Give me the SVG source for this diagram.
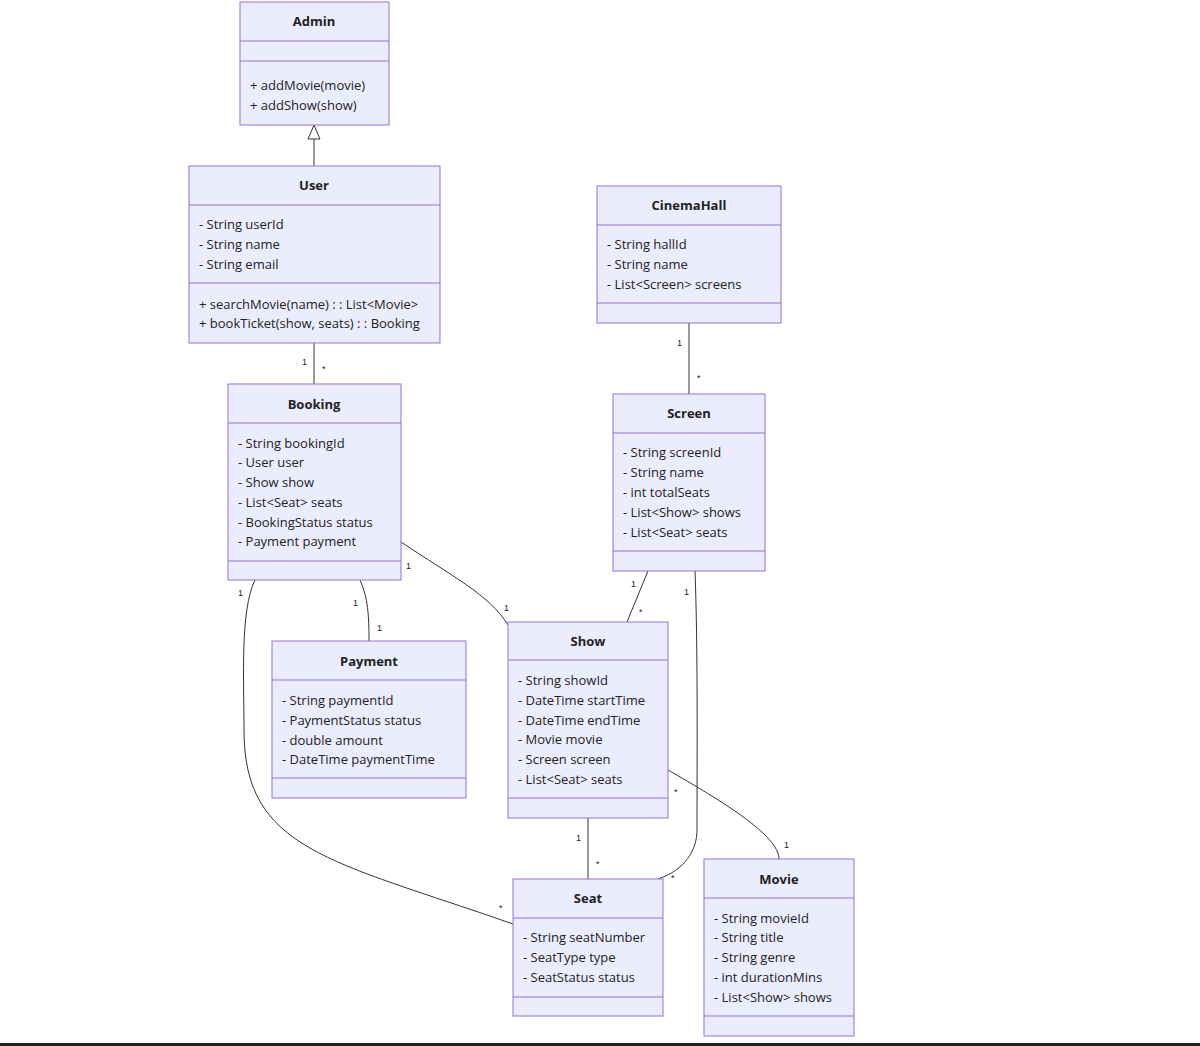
<svg xmlns="http://www.w3.org/2000/svg" width="1200" height="1046" viewBox="0 0 1200 1046">
<style>
.b{fill:#ECECFF;stroke:#9370DB;stroke-width:1}
.s{stroke:#9370DB;stroke-width:1}
.t{font-family:"Open Sans","Liberation Sans",sans-serif;font-size:13px;fill:#222}
.h{font-family:"Open Sans","Liberation Sans",sans-serif;font-size:13px;font-weight:bold;fill:#222;text-anchor:middle}
.l{fill:none;stroke:#333;stroke-width:1}
.n{font-family:"Liberation Sans",sans-serif;font-size:9px;fill:#222}
</style>
<rect width="1200" height="1046" fill="#fff"/>
<g id="connectors">
<path class="l" d="M314,166 V138"/><path d="M314,125 L308,139 L320,139 Z" fill="#fff" stroke="#333"/>
<path class="l" d="M314,343 V384"/>
<path class="l" d="M689,323 V394"/>
<path class="l" d="M401,542 C450,575 490,595 508,625"/>
<path class="l" d="M360,580 C368,598 369,615 369,641"/>
<path class="l" d="M255,580 C240,610 244,680 244,730 C244,850 330,860 513,924"/>
<path class="l" d="M648,571 L627,622"/>
<path class="l" d="M695,571 C698,650 697,760 697,830 C697,850 685,870 658,879"/>
<path class="l" d="M588,818 V879"/>
<path class="l" d="M668,770 C720,800 779,835 779,859"/>
<g class="n">
<text x="302" y="365">1</text><text x="322" y="372">*</text>
<text x="677" y="346">1</text><text x="697" y="381">*</text>
<text x="406" y="569">1</text><text x="504" y="611">1</text>
<text x="353" y="606">1</text><text x="377" y="631">1</text>
<text x="238" y="596">1</text><text x="499" y="911">*</text>
<text x="631" y="587">1</text><text x="639" y="615">*</text>
<text x="684" y="595">1</text><text x="671" y="881">*</text>
<text x="576" y="841">1</text><text x="596" y="867">*</text>
<text x="674" y="795">*</text><text x="784" y="848">1</text>
</g>
</g>
<g id="Admin"><rect class="b" x="240" y="2" width="149" height="123"/><path class="s" d="M240,41H389M240,61H389"/>
<text class="h" x="314" y="26">Admin</text><text class="t" x="250" y="90">+ addMovie(movie)</text><text class="t" x="250" y="110">+ addShow(show)</text></g>
<g id="User"><rect class="b" x="189" y="166" width="251" height="177"/><path class="s" d="M189,205H440M189,283H440"/>
<text class="h" x="314" y="190">User</text><text class="t" x="199" y="229">- String userId</text><text class="t" x="199" y="249">- String name</text><text class="t" x="199" y="269">- String email</text>
<text class="t" x="199" y="309">+ searchMovie(name) : : List&lt;Movie&gt;</text><text class="t" x="199" y="328">+ bookTicket(show, seats) : : Booking</text></g>
<g id="CinemaHall"><rect class="b" x="597" y="186" width="184" height="137"/><path class="s" d="M597,225H781M597,303H781"/>
<text class="h" x="689" y="210">CinemaHall</text><text class="t" x="607" y="249">- String hallId</text><text class="t" x="607" y="269">- String name</text><text class="t" x="607" y="289">- List&lt;Screen&gt; screens</text></g>
<g id="Booking"><rect class="b" x="228" y="384" width="173" height="196"/><path class="s" d="M228,423H401M228,561H401"/>
<text class="h" x="314" y="409">Booking</text><text class="t" x="238" y="448">- String bookingId</text><text class="t" x="238" y="467">- User user</text><text class="t" x="238" y="487">- Show show</text><text class="t" x="238" y="507">- List&lt;Seat&gt; seats</text><text class="t" x="238" y="527">- BookingStatus status</text><text class="t" x="238" y="546">- Payment payment</text></g>
<g id="Screen"><rect class="b" x="613" y="394" width="152" height="177"/><path class="s" d="M613,433H765M613,551H765"/>
<text class="h" x="689" y="418">Screen</text><text class="t" x="623" y="457">- String screenId</text><text class="t" x="623" y="477">- String name</text><text class="t" x="623" y="497">- int totalSeats</text><text class="t" x="623" y="517">- List&lt;Show&gt; shows</text><text class="t" x="623" y="537">- List&lt;Seat&gt; seats</text></g>
<g id="Payment"><rect class="b" x="272" y="641" width="194" height="157"/><path class="s" d="M272,680H466M272,778H466"/>
<text class="h" x="369" y="666">Payment</text><text class="t" x="282" y="705">- String paymentId</text><text class="t" x="282" y="725">- PaymentStatus status</text><text class="t" x="282" y="745">- double amount</text><text class="t" x="282" y="764">- DateTime paymentTime</text></g>
<g id="Show"><rect class="b" x="508" y="622" width="160" height="196"/><path class="s" d="M508,660H668M508,798H668"/>
<text class="h" x="588" y="646">Show</text><text class="t" x="518" y="685">- String showId</text><text class="t" x="518" y="705">- DateTime startTime</text><text class="t" x="518" y="725">- DateTime endTime</text><text class="t" x="518" y="744">- Movie movie</text><text class="t" x="518" y="764">- Screen screen</text><text class="t" x="518" y="784">- List&lt;Seat&gt; seats</text></g>
<g id="Seat"><rect class="b" x="513" y="879" width="150" height="137"/><path class="s" d="M513,918H663M513,997H663"/>
<text class="h" x="588" y="903">Seat</text><text class="t" x="523" y="942">- String seatNumber</text><text class="t" x="523" y="962">- SeatType type</text><text class="t" x="523" y="982">- SeatStatus status</text></g>
<g id="Movie"><rect class="b" x="704" y="859" width="150" height="177"/><path class="s" d="M704,898H854M704,1016H854"/>
<text class="h" x="779" y="884">Movie</text><text class="t" x="714" y="923">- String movieId</text><text class="t" x="714" y="942">- String title</text><text class="t" x="714" y="962">- String genre</text><text class="t" x="714" y="982">- int durationMins</text><text class="t" x="714" y="1002">- List&lt;Show&gt; shows</text></g>
<rect x="0" y="1043" width="1200" height="3" fill="#222"/>
</svg>
